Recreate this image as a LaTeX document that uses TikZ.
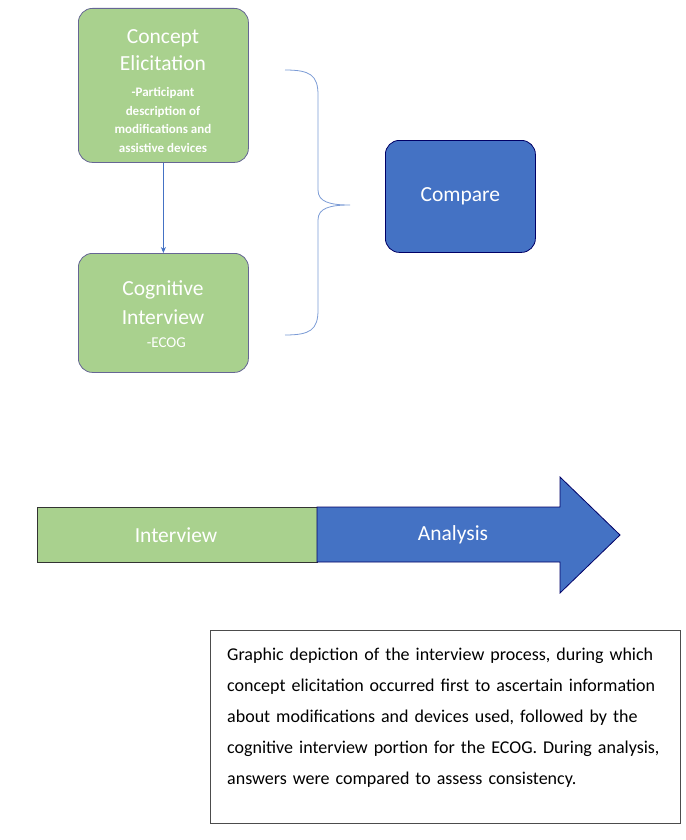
\documentclass[tikz,border=0pt]{standalone}
\usepackage{fontspec}
\usetikzlibrary{arrows.meta}
\setmainfont{Carlito}
\begin{document}
\begin{tikzpicture}[x=1pt,y=-1pt,
  gbox/.style={draw=black!70!blue!60,line width=0.8pt,rounded corners=14pt,fill=gr,text=white,align=center,anchor=north west,inner sep=0pt},
  bbox/.style={draw=black!60!blue,line width=0.8pt,rounded corners=14pt,fill=bl,text=white,align=center,anchor=north west,inner sep=0pt}]
\definecolor{gr}{HTML}{A9D18E}
\definecolor{bl}{HTML}{4472C4}
\useasboundingbox (0,0) rectangle (685,840);
\fill[white] (0,0) rectangle (685,840);
\node[gbox,minimum width=170pt,minimum height=154pt] (ce) at (78,8) {};
\node[text=white,align=center,font=\fontsize{21.5}{27}\selectfont] (ct) at (163,50) {Concept\\Elicitation};
\node[text=white,align=center,font=\bfseries\fontsize{13}{18.5}\selectfont] (cs) at (163,120) {-Participant\\description of\\modifications and\\assistive devices};
\node[gbox,minimum width=170pt,minimum height=119pt] (ci) at (78,253) {};
\node[text=white,align=center,font=\fontsize{21.5}{29}\selectfont] (cit) at (163,314) {Cognitive\\Interview\\[-6pt]{\fontsize{15}{16}\selectfont\ \ -ECOG}};
\draw[bl,line width=0.7pt,-{Stealth[length=6pt,width=5pt]}] (ce.south) -- (ci.north);
\node[bbox,minimum width=150pt,minimum height=112pt,font=\fontsize{21.5}{24}\selectfont] (cmp) at (385,140) {Compare};
\draw[bl!70,line width=0.8pt] (285,70) .. controls (310,70) and (318,75) .. (318,95) -- (318,190) .. controls (318,202) and (330,205) .. (350,205)
  .. controls (330,205) and (318,208) .. (318,220) -- (318,310) .. controls (318,330) and (310,335) .. (285,335);
\node[draw=black!80,line width=0.8pt,fill=gr,anchor=north west,minimum width=280pt,minimum height=55pt,inner sep=0pt] (iv) at (37,507) {};
\node[text=white,font=\fontsize{21.5}{24}\selectfont] (ivt) at (176,535) {Interview};
\draw[draw=black!60!blue,line width=0.8pt,fill=bl] (317,507) -- (560,507) -- (560,477) -- (620,535) -- (560,593) -- (560,562) -- (317,562) -- cycle;
\node[text=white,font=\fontsize{21.5}{24}\selectfont] (an) at (453,535) {Analysis};
\node[draw=black!70,line width=0.6pt,anchor=north west,minimum width=470pt,minimum height=193pt,inner sep=0pt] (tb) at (210,630) {};
\node[anchor=north west,align=left,text width=445pt,font=\fontsize{18}{31}\selectfont,inner sep=0pt] (tt) at (227,648) {Graphic depiction of the interview process, during which concept elicitation occurred first to ascertain information about modifications and devices used, followed by the cognitive interview portion for the ECOG. During analysis, answers were compared to assess consistency.};
\end{tikzpicture}
\end{document}
